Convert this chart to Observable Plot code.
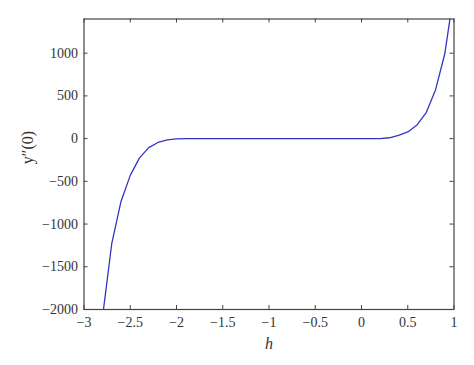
<!DOCTYPE html>
<html>
<head>
<meta charset="utf-8">
<script src="https://cdn.jsdelivr.net/npm/d3@7"></script>
<script src="https://cdn.jsdelivr.net/npm/@observablehq/plot@0.6"></script>
<style>
  html, body { margin: 0; padding: 0; background: #fff; }
  #chart svg { display: block; }
</style>
</head>
<body>
<div id="chart"></div>
<script>
const hValues = [-2.8, -2.7, -2.6, -2.5, -2.4, -2.3, -2.2, -2.1, -2.0, -1.9,
  -1.8, -1.7, -1.6, -1.5, -1.4, -1.3, -1.2, -1.1, -1.0, -0.9,
  -0.8, -0.7, -0.6, -0.5, -0.4, -0.3, -0.2, -0.1, 0.0, 0.1,
  0.2, 0.3, 0.4, 0.5, 0.6, 0.7, 0.8, 0.9, 1.0];
const yValues = [-2090, -1230, -735, -430, -225, -105, -45, -15, -4, -0.5,
  0, 0, 0, 0, 0, 0, 0, 0, 0, 0,
  0, 0, 0, 0, 0, 0, 0, 0, 0, 0,
  0.5, 10, 37, 78, 160, 305, 570, 990, 1720];
const xTicks = [-3, -2.5, -2, -1.5, -1, -0.5, 0, 0.5, 1];
const yTicks = [-2000, -1500, -1000, -500, 0, 500, 1000];
const xLabel = "h";
const yLabel = "y″(0)";

const data = hValues.map((h, i) => ({h, v: yValues[i]}));
const fmt = d => String(d).replace("-", "\u2212");

const W = 474, H = 365;
const mL = 83.5, mR = 20.5, mT = 18.5, mB = 56;
const innerH = H - mT - mB;
const innerW = W - mL - mR;
const tk = 4;
const ink = "#333";
const FF = "'Liberation Serif', 'DejaVu Serif', serif";
const FS = 14;

const chart = Plot.plot({
  width: W,
  height: H,
  marginLeft: mL,
  marginRight: mR,
  marginTop: mT,
  marginBottom: mB,
  style: `font-family: ${FF}; font-size: ${FS}px; color: ${ink}; background: #fff;`,
  x: {domain: [-3, 1]},
  y: {domain: [-2000, 1400]},
  marks: [
    Plot.line(data, {x: "h", y: "v", stroke: "#3434c4", strokeWidth: 1.3, clip: true}),
    Plot.tickX(xTicks, {x: d => d, insetTop: innerH - tk, stroke: "#444", strokeWidth: 1}),
    Plot.tickX(xTicks, {x: d => d, insetBottom: innerH - tk, stroke: "#444", strokeWidth: 1}),
    Plot.tickY(yTicks, {y: d => d, insetRight: innerW - tk, stroke: "#444", strokeWidth: 1}),
    Plot.tickY(yTicks, {y: d => d, insetLeft: innerW - tk, stroke: "#444", strokeWidth: 1}),
    Plot.axisX(xTicks, {tickSize: 0, tickPadding: 8, tickFormat: fmt, label: null, fill: ink, fontFamily: FF, fontSize: FS}),
    Plot.axisY(yTicks, {tickSize: 0, tickPadding: 6, tickFormat: fmt, label: null, fill: ink, fontFamily: FF, fontSize: FS}),
    Plot.frame({stroke: "#444", strokeWidth: 1.2}),
    Plot.text([xLabel], {text: d => d, frameAnchor: "bottom", dy: 39, lineAnchor: "bottom", fontStyle: "italic", fontFamily: FF, fontSize: 16, fill: ink}),
    Plot.text([yLabel], {text: d => d, frameAnchor: "left", dx: -56, rotate: -90, fontFamily: FF, fontSize: 16, fill: ink, ariaLabel: "ylab"})
  ]
});
document.getElementById("chart").appendChild(chart);

// style y label: italic y, upright (0)
d3.select(chart).selectAll('g[aria-label="ylab"] text').each(function() {
  const t = d3.select(this);
  const s = t.text();
  t.text(null);
  t.append("tspan").attr("font-style", "italic").text(s.slice(0, 2));
  t.append("tspan").text(s.slice(2));
});
</script>
</body>
</html>
